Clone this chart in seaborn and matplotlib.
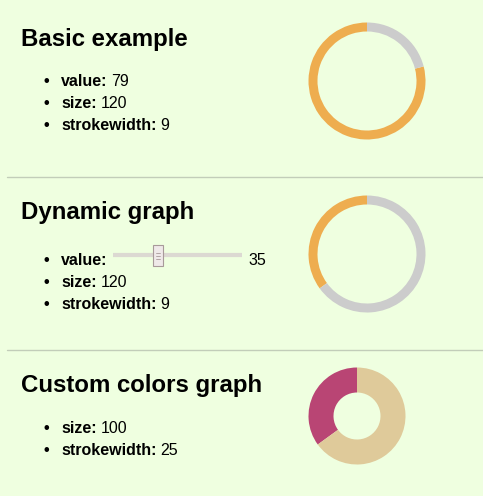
import matplotlib
matplotlib.use('Agg')
import matplotlib.pyplot as plt
import seaborn as sns
from matplotlib.patches import Rectangle

titles = ['Basic example', 'Dynamic graph', 'Custom colors graph']
values = [79, 35, 35]
sizes = [120, 120, 100]
strokewidths = [9, 9, 25]
fg_colors = ['#eead4f', '#eead4f', '#b94574']
bg_colors = ['#cccccc', '#cccccc', '#dfca9a']

W, H = 483, 496
bg = '#efffe0'

sns.set_theme(style='white', rc={'figure.facecolor': bg, 'axes.facecolor': bg,
                                 'text.color': 'black'})
plt.rcParams['font.family'] = ['Liberation Sans', 'DejaVu Sans']

fig = plt.figure(figsize=(W / 100, H / 100), dpi=100)
ax = fig.add_axes([0, 0, 1, 1])
ax.set_xlim(0, W)
ax.set_ylim(H, 0)
ax.axis('off')

title_fs = 24 * 0.72
item_fs = 16 * 0.72

# section layout in pixels
title_y = [46, 219, 392]
item_y = [[86, 108, 130], [265, 287, 309], [433, 455]]
donut_center = [(367, 81), (367, 254), (357, 416)]
divider_y = [177, 350]

renderer = fig.canvas.get_renderer()


def item(x, y, label, value=None):
    ax.text(x - 17, y, '\u2022', fontsize=item_fs, fontweight='bold', va='baseline')
    t = ax.text(x, y, label, fontsize=item_fs, fontweight='bold', va='baseline')
    if value is None:
        return t
    bb = t.get_window_extent(renderer)
    x1 = ax.transData.inverted().transform((bb.x1, bb.y0))[0]
    ax.text(x1 + 4, y, value, fontsize=item_fs, va='baseline')
    return t


for i in range(3):
    ax.text(21, title_y[i], titles[i], fontsize=title_fs, fontweight='bold', va='baseline')
    rows = []
    if i == 0:
        rows.append(('value:', str(values[i])))
    rows.append(('size:', str(sizes[i])))
    rows.append(('strokewidth:', str(strokewidths[i])))
    ys = item_y[i] if i != 1 else item_y[i][1:]
    for (lab, val), y in zip(rows, ys):
        item(61, y, lab, val)
    if i == 1:
        # slider row
        y = item_y[1][0]
        item(61, y, 'value:')
        x0, x1, ty = 113, 242, 255
        ax.plot([x0, x1], [ty, ty], color='#dcd9d2', lw=3, solid_capstyle='butt')
        tx = x0 + (x1 - x0) * values[1] / 100
        ax.add_patch(Rectangle((tx - 5, 245), 10, 21, facecolor='#efe9e9',
                               edgecolor='#a89a9a', lw=0.8, zorder=3))
        for dy in (-3, 0, 3):
            ax.plot([tx - 2, tx + 2], [255.5 + dy, 255.5 + dy], color='#a89a9a',
                    lw=0.6, zorder=4)
        ax.text(248, y, str(values[1]), fontsize=item_fs, va='baseline')

for y in divider_y:
    ax.plot([7, W], [y, y], color='#c2cdb9', lw=1)

# donuts
for i in range(3):
    cx, cy = donut_center[i]
    d = sizes[i] - 3
    r = d / 2
    dax = fig.add_axes([(cx - r) / W, 1 - (cy + r) / H, d / W, d / H])
    dax.pie([values[i], 100 - values[i]], colors=[fg_colors[i], bg_colors[i]],
            startangle=90, counterclock=True, radius=1,
            wedgeprops=dict(width=strokewidths[i] / r, linewidth=0))
    dax.set_xlim(-1, 1)
    dax.set_ylim(-1, 1)
    dax.set_aspect('equal')
    dax.axis('off')

fig.savefig('out.png', dpi=100, facecolor=bg)
